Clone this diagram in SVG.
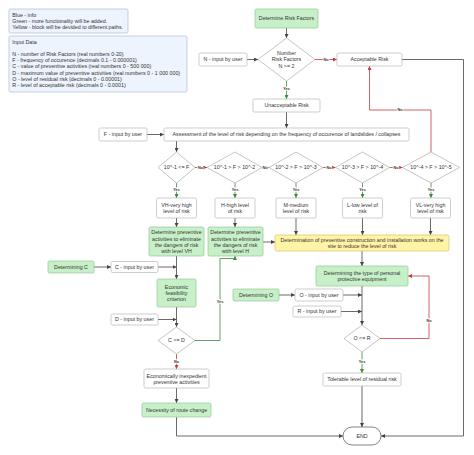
<svg xmlns="http://www.w3.org/2000/svg" width="474" height="455" viewBox="0 0 474 455">
<style>
text{font-family:"Liberation Sans",Arial,sans-serif;font-size:5.3px;fill:#333;}
.c{text-anchor:middle;}
.box{fill:#fff;stroke:#b8b8b8;stroke-width:0.7;}
.grn{fill:#c7f0c9;stroke:#93c993;stroke-width:0.7;}
.yel{fill:#fff3a6;stroke:#d6c36a;stroke-width:0.7;}
.blu{fill:#eef4fd;stroke:#a9bcd9;stroke-width:0.7;}
.dia{fill:#fff;stroke:#aaa;stroke-width:0.7;}
.e{fill:none;stroke:#444;stroke-width:0.8;}
.r{fill:none;stroke:#c83a3a;stroke-width:0.8;}
.g{fill:none;stroke:#3a8a3a;stroke-width:0.8;}
.lbl{font-size:3.8px;font-weight:bold;text-anchor:middle;stroke:#fff;stroke-width:1.6px;paint-order:stroke;}
</style>
<defs>
<marker id="ak" markerWidth="4" markerHeight="4" refX="4" refY="2" orient="auto" markerUnits="userSpaceOnUse"><path d="M0,0L4,2L0,4z" fill="#444"/></marker>
<marker id="ar" markerWidth="4" markerHeight="4" refX="4" refY="2" orient="auto" markerUnits="userSpaceOnUse"><path d="M0,0L4,2L0,4z" fill="#c83a3a"/></marker>
<marker id="ag" markerWidth="4" markerHeight="4" refX="4" refY="2" orient="auto" markerUnits="userSpaceOnUse"><path d="M0,0L4,2L0,4z" fill="#3a8a3a"/></marker>
</defs>
<rect width="474" height="455" fill="#fff"/>

<g id="connectors">
<path class="e" d="M286.5,28V38" marker-end="url(#ak)"/>
<path class="e" d="M247,59.5H258" marker-end="url(#ak)"/>
<path class="r" d="M315,59.5H337" marker-end="url(#ar)"/>
<text class="lbl" x="326" y="60.8">No</text>
<path class="g" d="M286.5,81V99" marker-end="url(#ag)"/>
<text class="lbl" x="286.5" y="90.3">Yes</text>
<path class="e" d="M286.5,112V128" marker-end="url(#ak)"/>
<path class="e" d="M147,134.5H164" marker-end="url(#ak)"/>
<path class="e" d="M176.5,141V152" marker-end="url(#ak)"/>
<path class="r" d="M195,167.5H207" marker-end="url(#ar)"/>
<text class="lbl" x="200.5" y="168.8">No</text>
<path class="r" d="M262,167.5H269" marker-end="url(#ar)"/>
<text class="lbl" x="265" y="168.8">No</text>
<path class="r" d="M323,167.5H335.5" marker-end="url(#ar)"/>
<text class="lbl" x="329" y="168.8">No</text>
<path class="r" d="M389.5,167.5H402.5" marker-end="url(#ar)"/>
<text class="lbl" x="396" y="168.8">No</text>
<path class="r" d="M431,152V110H369.5V66" marker-end="url(#ar)"/>
<text class="lbl" x="400" y="111.3">No</text>
<path class="e" d="M402,59.5H463.5V436H381" marker-end="url(#ak)"/>
<path class="g" d="M176.5,183V198" marker-end="url(#ag)"/>
<text class="lbl" x="176.5" y="191.3">Yes</text>
<path class="g" d="M235,183V198" marker-end="url(#ag)"/>
<text class="lbl" x="235" y="191.3">Yes</text>
<path class="g" d="M296,183V198" marker-end="url(#ag)"/>
<text class="lbl" x="296" y="191.3">Yes</text>
<path class="g" d="M362.5,183V198" marker-end="url(#ag)"/>
<text class="lbl" x="362.5" y="191.3">Yes</text>
<path class="g" d="M431,183V198" marker-end="url(#ag)"/>
<text class="lbl" x="431" y="191.3">Yes</text>
<path class="e" d="M176.5,218V227" marker-end="url(#ak)"/>
<path class="e" d="M235,218V227" marker-end="url(#ak)"/>
<path class="e" d="M296,218V235" marker-end="url(#ak)"/>
<path class="e" d="M362.5,218V235" marker-end="url(#ak)"/>
<path class="e" d="M430.5,218V235" marker-end="url(#ak)"/>
<path class="e" d="M263,242H275" marker-end="url(#ak)"/>
<path class="e" d="M176.5,256V279" marker-end="url(#ak)"/>
<path class="e" d="M94,267H111" marker-end="url(#ak)"/>
<path class="e" d="M158,267H176.5" marker-end="url(#ak)"/>
<path class="e" d="M176.5,307V327" marker-end="url(#ak)"/>
<path class="e" d="M158,319.5H176.5" marker-end="url(#ak)"/>
<path class="g" d="M195,340.5H220V258.5H235V256" marker-end="url(#ag)"/>
<text class="lbl" x="220" y="303.3">Yes</text>
<path class="r" d="M176.5,354V369" marker-end="url(#ar)"/>
<text class="lbl" x="176.5" y="362.8">No</text>
<path class="e" d="M176.5,388V403" marker-end="url(#ak)"/>
<path class="e" d="M176.5,417V436H343" marker-end="url(#ak)"/>
<path class="e" d="M362,251V266" marker-end="url(#ak)"/>
<path class="e" d="M279,295H295" marker-end="url(#ak)"/>
<path class="e" d="M343,295H362" marker-end="url(#ak)"/>
<path class="e" d="M341,311.5H362" marker-end="url(#ak)"/>
<path class="e" d="M362,286V325" marker-end="url(#ak)"/>
<path class="r" d="M380,338.5H429V276H408" marker-end="url(#ar)"/>
<text class="lbl" x="429" y="322.3">No</text>
<path class="g" d="M362,352V373" marker-end="url(#ag)"/>
<text class="lbl" x="362" y="363.3">Yes</text>
<path class="e" d="M362,386V427" marker-end="url(#ak)"/>
</g>

<g id="legend">
<rect class="blu" x="9" y="9" width="119" height="24" rx="1.5"/>
<text x="12.3" y="16.9">Blue - info</text>
<text x="12.3" y="22.8">Green - more functionality will be added.</text>
<text x="12.3" y="28.7">Yellow - block will be devided to different paths.</text>
</g>
<g id="input-data">
<rect class="blu" x="9" y="36" width="178" height="56" rx="1.5"/>
<text x="12.3" y="43.9">Input Data</text>
<text x="12.3" y="55.9">N - number of Risk Factors (real numbers 0-20)</text>
<text x="12.3" y="62.1">F - frequency of occurence (decimals 0.1 - 0.000001)</text>
<text x="12.3" y="68.3">C - value of preventive activities (real numbers 0 - 500 000)</text>
<text x="12.3" y="74.5">D - maximum value of preventive activities (real numbers 0 - 1 000 000)</text>
<text x="12.3" y="80.7">O - level of residual risk (decimals 0 - 0.00001)</text>
<text x="12.3" y="86.9">R - level of acceptable risk (decimals 0 - 0.0001)</text>
</g>

<g id="determine-risk-factors"><rect class="grn" x="255" y="9" width="63" height="19" rx="1.5"/><text class="c" x="286.5" y="20.4">Determine Risk Factors</text></g>
<g id="n-check"><path class="dia" d="M286.5,38L315,59.5L286.5,81L258,59.5Z"/>
<text class="c" x="286.5" y="55.2">Number</text><text class="c" x="286.5" y="61.4">Risk Factors</text><text class="c" x="286.5" y="67.6">N &gt;= 2</text></g>
<g id="n-input"><rect class="box" x="199" y="53" width="48" height="13" rx="1.5"/><text class="c" x="223" y="61.4">N - input by user</text></g>
<g id="acceptable-risk"><rect class="box" x="337" y="53" width="65" height="13" rx="1.5"/><text class="c" x="369.5" y="61.4">Acceptable Risk</text></g>
<g id="unacceptable-risk"><rect class="box" x="253" y="99" width="67" height="13" rx="1.5"/><text class="c" x="286.5" y="107.4">Unacceptable Risk</text></g>
<g id="f-input"><rect class="box" x="99" y="128" width="48" height="13" rx="1.5"/><text class="c" x="123" y="136.4">F - input by user</text></g>
<g id="assessment"><rect class="box" x="164" y="128" width="245" height="13" rx="1.5"/><text class="c" x="286.5" y="136.4">Assessment of the level of risk depending on the frequency of occurence of landslides / collapses</text></g>

<g id="f1"><path class="dia" d="M176.5,152L195,167.5L176.5,183L158,167.5Z"/><text class="c" x="176.5" y="169.4">10^-1 &lt;= F</text></g>
<g id="f2"><path class="dia" d="M235,152L262,167.5L235,183L207,167.5Z"/><text class="c" x="234.5" y="169.4">10^-1 &gt; F &gt; 10^-2</text></g>
<g id="f3"><path class="dia" d="M296,152L323,167.5L296,183L269,167.5Z"/><text class="c" x="296" y="169.4">10^-2 &gt; F &gt; 10^-3</text></g>
<g id="f4"><path class="dia" d="M362.5,152L389.5,167.5L362.5,183L335.5,167.5Z"/><text class="c" x="362.5" y="169.4">10^-3 &gt; F &gt; 10^-4</text></g>
<g id="f5"><path class="dia" d="M431,152L459.5,167.5L431,183L402.5,167.5Z"/><text class="c" x="431" y="169.4">10^-4 &gt; F &gt; 10^-5</text></g>

<g id="vh"><rect class="box" x="156.5" y="198" width="40" height="20" rx="1.5"/><text class="c" x="176.5" y="206.7">VH-very high</text><text class="c" x="176.5" y="213.1">level of risk</text></g>
<g id="h"><rect class="box" x="215" y="198" width="40" height="20" rx="1.5"/><text class="c" x="235" y="206.7">H-high level</text><text class="c" x="235" y="213.1">of risk</text></g>
<g id="m"><rect class="box" x="276" y="198" width="40" height="20" rx="1.5"/><text class="c" x="296" y="206.7">M-medium</text><text class="c" x="296" y="213.1">level of risk</text></g>
<g id="l"><rect class="box" x="342.5" y="198" width="40" height="20" rx="1.5"/><text class="c" x="362.5" y="206.7">L-low level of</text><text class="c" x="362.5" y="213.1">risk</text></g>
<g id="vl"><rect class="box" x="410.5" y="198" width="40" height="20" rx="1.5"/><text class="c" x="430.5" y="206.7">VL-very high</text><text class="c" x="430.5" y="213.1">level of risk</text></g>

<g id="prev-vh"><rect class="grn" x="149" y="227" width="55" height="29" rx="1.5"/>
<text class="c" x="176.5" y="234.2">Determine preventive</text><text class="c" x="176.5" y="240.5">activities to eliminate</text><text class="c" x="176.5" y="246.8">the dangers of risk</text><text class="c" x="176.5" y="253.1">with level VH</text></g>
<g id="prev-h"><rect class="grn" x="208" y="227" width="55" height="29" rx="1.5"/>
<text class="c" x="235.5" y="234.2">Determine preventive</text><text class="c" x="235.5" y="240.5">activities to eliminate</text><text class="c" x="235.5" y="246.8">the dangers of risk</text><text class="c" x="235.5" y="253.1">with level H</text></g>
<g id="works"><rect class="yel" x="275" y="235" width="174" height="16" rx="1.5"/>
<text class="c" x="362" y="241.8">Determination of preventive construction and installation works on the</text><text class="c" x="362" y="248.1">site to reduce the level of risk</text></g>

<g id="determining-c"><rect class="grn" x="48" y="261" width="46" height="12" rx="1.5"/><text class="c" x="71" y="268.9">Determining C</text></g>
<g id="c-input"><rect class="box" x="111" y="261.5" width="47" height="11" rx="1.5"/><text class="c" x="134.5" y="268.9">C - input by user</text></g>
<g id="economic"><rect class="grn" x="157" y="279" width="39" height="28" rx="1.5"/>
<text class="c" x="176.5" y="288.6">Economic</text><text class="c" x="176.5" y="295">feasibility</text><text class="c" x="176.5" y="301.4">criterion</text></g>
<g id="d-input"><rect class="box" x="111" y="314" width="47" height="11" rx="1.5"/><text class="c" x="134.5" y="321.4">D - input by user</text></g>
<g id="cd-check"><path class="dia" d="M176.5,327L195,340.5L176.5,354L158,340.5Z"/><text class="c" x="176.5" y="342.4">C &lt;= D</text></g>
<g id="inexpedient"><rect class="box" x="144" y="369" width="65" height="19" rx="1.5"/>
<text class="c" x="176.5" y="377.5">Economically inexpedient</text><text class="c" x="176.5" y="383.9">preventive activities</text></g>
<g id="route-change"><rect class="grn" x="142" y="403" width="69" height="14" rx="1.5"/><text class="c" x="176.5" y="411.9">Necessity of route change</text></g>

<g id="ppe"><rect class="grn" x="316" y="266" width="92" height="20" rx="1.5"/>
<text class="c" x="362" y="274.7">Determining the type of personal</text><text class="c" x="362" y="281.1">protective equipment</text></g>
<g id="determining-o"><rect class="grn" x="233" y="289" width="46" height="12" rx="1.5"/><text class="c" x="256" y="296.9">Determining O</text></g>
<g id="o-input"><rect class="box" x="295" y="289" width="48" height="12" rx="1.5"/><text class="c" x="319" y="296.9">O - input by user</text></g>
<g id="r-input"><rect class="box" x="293" y="306" width="48" height="11" rx="1.5"/><text class="c" x="317" y="313.4">R - input by user</text></g>
<g id="or-check"><path class="dia" d="M362,325L380,338.5L362,352L344,338.5Z"/><text class="c" x="362" y="340.4">O &lt;= R</text></g>
<g id="tolerable"><rect class="box" x="323" y="373" width="78" height="13" rx="1.5"/><text class="c" x="362" y="381.4">Tolerable level of residual risk</text></g>
<g id="end"><rect class="box" x="343" y="427" width="38" height="18" rx="9" style="stroke:#666;stroke-width:0.8"/><text class="c" x="362" y="437.9">END</text></g>
</svg>
